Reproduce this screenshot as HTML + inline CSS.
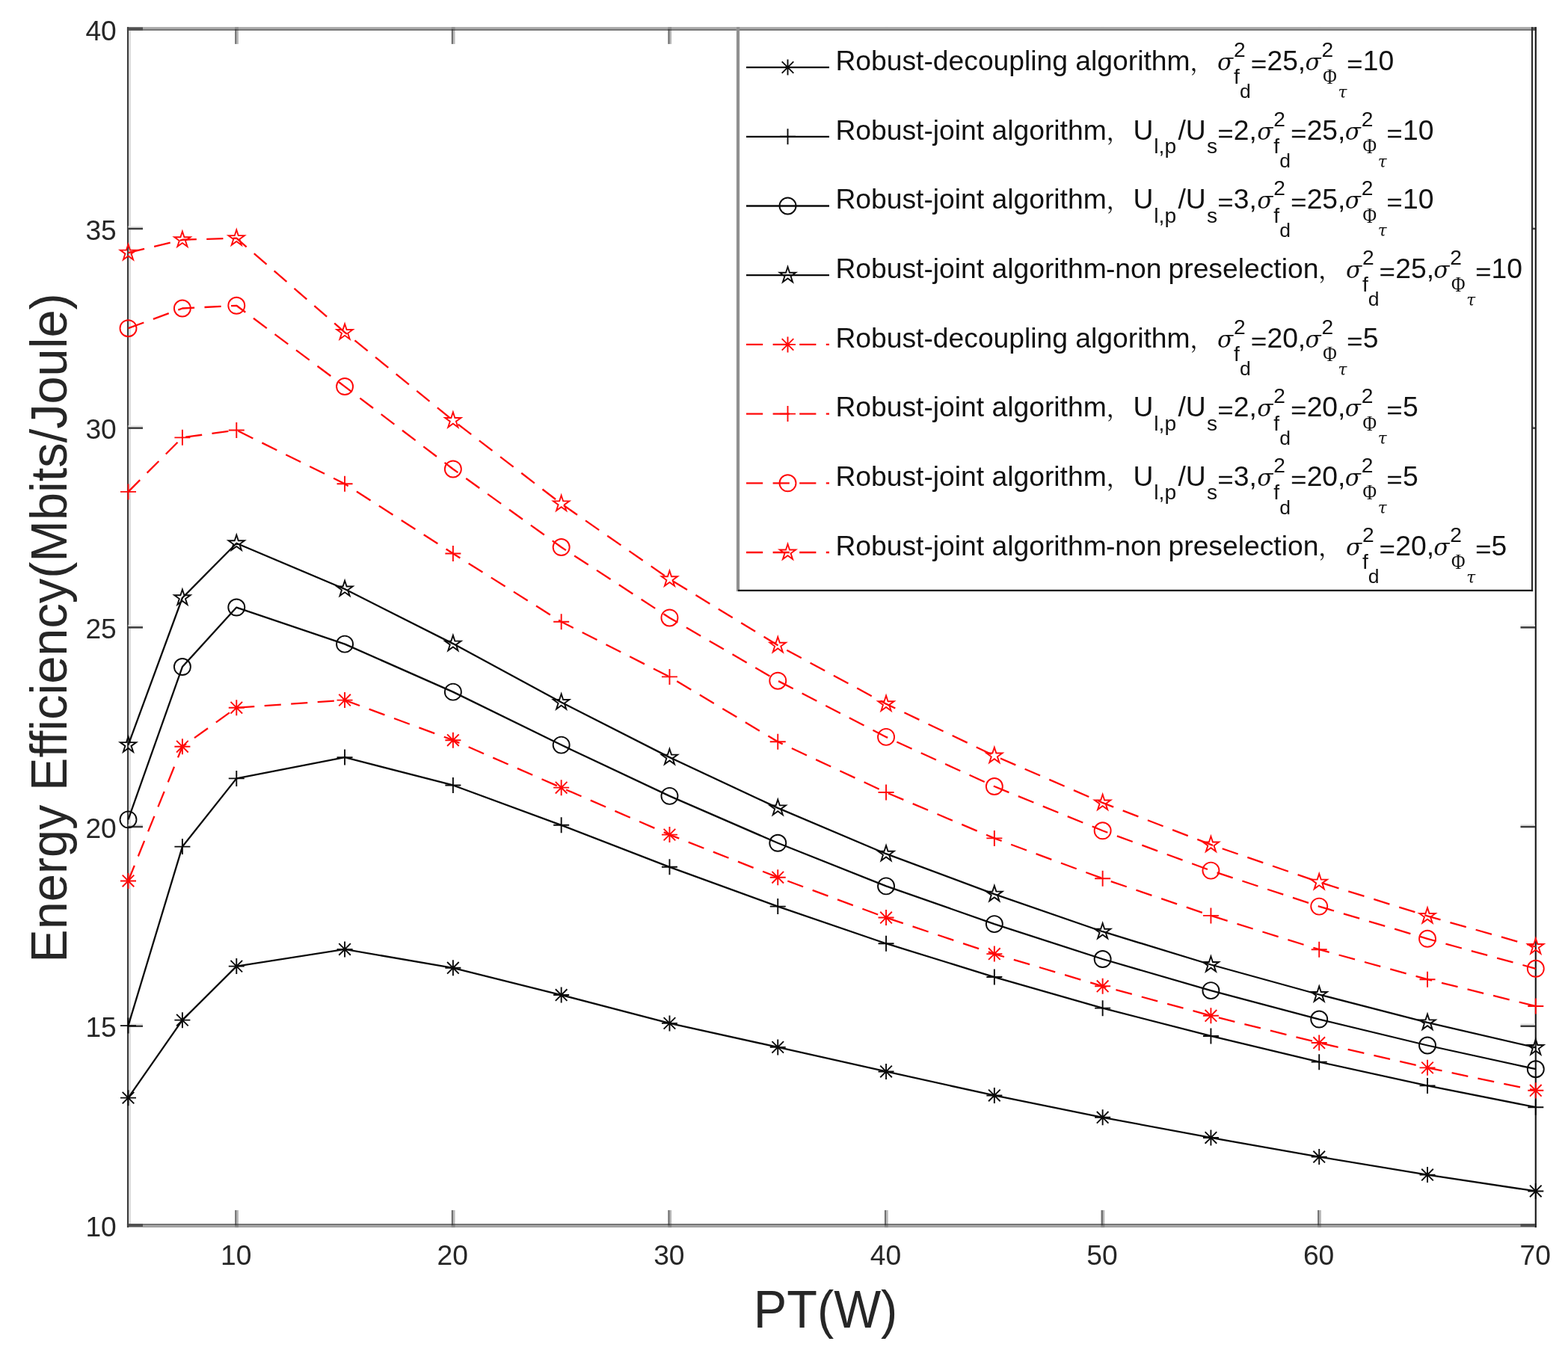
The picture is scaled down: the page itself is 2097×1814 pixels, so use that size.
<!DOCTYPE html>
<html lang="en">
<head>
<meta charset="utf-8">
<title>Energy Efficiency vs PT</title>
<style>
html,body{margin:0;padding:0;background:#fff;}
body{width:2097px;height:1814px;overflow:hidden;}
svg{display:block;}
</style>
</head>
<body>
<svg width="2097" height="1814" viewBox="0 0 2097 1814">
<rect x="0" y="0" width="2097" height="1814" fill="#fff"/>
<g id="axes">
<rect x="169.9" y="36.15" width="1885" height="2.46" fill="#a8a8a8"/>
<rect x="169.9" y="38.61" width="1885" height="2.32" fill="#757575"/>
<rect x="169.9" y="1637" width="1885" height="2.46" fill="#757575"/>
<rect x="169.9" y="1639.46" width="1885" height="2.61" fill="#a0a0a0"/>
<rect x="314.17" y="1618.9" width="2.46" height="18.1" fill="#707070"/>
<rect x="316.63" y="1618.9" width="2.32" height="18.1" fill="#b8b8b8"/>
<rect x="314.17" y="40.93" width="2.46" height="17.97" fill="#707070"/>
<rect x="316.63" y="40.93" width="2.32" height="17.97" fill="#b8b8b8"/>
<rect x="314.17" y="38.61" width="2.46" height="2.32" fill="#444"/>
<rect x="316.63" y="38.61" width="2.32" height="2.32" fill="#606060"/>
<rect x="314.17" y="36.15" width="4.78" height="2.46" fill="#909090"/>
<rect x="314.17" y="1637" width="2.46" height="2.46" fill="#444"/>
<rect x="316.63" y="1637" width="2.32" height="2.46" fill="#606060"/>
<rect x="314.17" y="1639.46" width="4.78" height="2.61" fill="#888"/>
<rect x="603.76" y="1618.9" width="2.46" height="18.1" fill="#707070"/>
<rect x="606.22" y="1618.9" width="2.32" height="18.1" fill="#b8b8b8"/>
<rect x="603.76" y="40.93" width="2.46" height="17.97" fill="#707070"/>
<rect x="606.22" y="40.93" width="2.32" height="17.97" fill="#b8b8b8"/>
<rect x="603.76" y="38.61" width="2.46" height="2.32" fill="#444"/>
<rect x="606.22" y="38.61" width="2.32" height="2.32" fill="#606060"/>
<rect x="603.76" y="36.15" width="4.78" height="2.46" fill="#909090"/>
<rect x="603.76" y="1637" width="2.46" height="2.46" fill="#444"/>
<rect x="606.22" y="1637" width="2.32" height="2.46" fill="#606060"/>
<rect x="603.76" y="1639.46" width="4.78" height="2.61" fill="#888"/>
<rect x="893.34" y="1618.9" width="2.46" height="18.1" fill="#707070"/>
<rect x="895.8" y="1618.9" width="2.32" height="18.1" fill="#b8b8b8"/>
<rect x="893.34" y="40.93" width="2.46" height="17.97" fill="#707070"/>
<rect x="895.8" y="40.93" width="2.32" height="17.97" fill="#b8b8b8"/>
<rect x="893.34" y="38.61" width="2.46" height="2.32" fill="#444"/>
<rect x="895.8" y="38.61" width="2.32" height="2.32" fill="#606060"/>
<rect x="893.34" y="36.15" width="4.78" height="2.46" fill="#909090"/>
<rect x="893.34" y="1637" width="2.46" height="2.46" fill="#444"/>
<rect x="895.8" y="1637" width="2.32" height="2.46" fill="#606060"/>
<rect x="893.34" y="1639.46" width="4.78" height="2.61" fill="#888"/>
<rect x="1182.93" y="1618.9" width="2.46" height="18.1" fill="#707070"/>
<rect x="1185.39" y="1618.9" width="2.32" height="18.1" fill="#b8b8b8"/>
<rect x="1182.93" y="40.93" width="2.46" height="17.97" fill="#707070"/>
<rect x="1185.39" y="40.93" width="2.32" height="17.97" fill="#b8b8b8"/>
<rect x="1182.93" y="38.61" width="2.46" height="2.32" fill="#444"/>
<rect x="1185.39" y="38.61" width="2.32" height="2.32" fill="#606060"/>
<rect x="1182.93" y="36.15" width="4.78" height="2.46" fill="#909090"/>
<rect x="1182.93" y="1637" width="2.46" height="2.46" fill="#444"/>
<rect x="1185.39" y="1637" width="2.32" height="2.46" fill="#606060"/>
<rect x="1182.93" y="1639.46" width="4.78" height="2.61" fill="#888"/>
<rect x="1472.51" y="1618.9" width="2.46" height="18.1" fill="#707070"/>
<rect x="1474.97" y="1618.9" width="2.32" height="18.1" fill="#b8b8b8"/>
<rect x="1472.51" y="40.93" width="2.46" height="17.97" fill="#707070"/>
<rect x="1474.97" y="40.93" width="2.32" height="17.97" fill="#b8b8b8"/>
<rect x="1472.51" y="38.61" width="2.46" height="2.32" fill="#444"/>
<rect x="1474.97" y="38.61" width="2.32" height="2.32" fill="#606060"/>
<rect x="1472.51" y="36.15" width="4.78" height="2.46" fill="#909090"/>
<rect x="1472.51" y="1637" width="2.46" height="2.46" fill="#444"/>
<rect x="1474.97" y="1637" width="2.32" height="2.46" fill="#606060"/>
<rect x="1472.51" y="1639.46" width="4.78" height="2.61" fill="#888"/>
<rect x="1762.1" y="1618.9" width="2.46" height="18.1" fill="#707070"/>
<rect x="1764.56" y="1618.9" width="2.32" height="18.1" fill="#b8b8b8"/>
<rect x="1762.1" y="40.93" width="2.46" height="17.97" fill="#707070"/>
<rect x="1764.56" y="40.93" width="2.32" height="17.97" fill="#b8b8b8"/>
<rect x="1762.1" y="38.61" width="2.46" height="2.32" fill="#444"/>
<rect x="1764.56" y="38.61" width="2.32" height="2.32" fill="#606060"/>
<rect x="1762.1" y="36.15" width="4.78" height="2.46" fill="#909090"/>
<rect x="1762.1" y="1637" width="2.46" height="2.46" fill="#444"/>
<rect x="1764.56" y="1637" width="2.32" height="2.46" fill="#606060"/>
<rect x="1762.1" y="1639.46" width="4.78" height="2.61" fill="#888"/>
<rect x="172.07" y="40.93" width="2.99" height="1596.07" fill="#dedede"/>
<rect x="169.94" y="36.15" width="2.13" height="1605.92" fill="#3c3c3c"/>
<rect x="2052.7" y="36.15" width="2.2" height="1605.92" fill="#1e1e1e"/>
<rect x="171.5" y="1637" width="19.5" height="4" fill="#505050"/>
<rect x="2033.5" y="1637" width="19.5" height="4" fill="#505050"/>
<rect x="171.5" y="1369.2" width="19.5" height="2.3" fill="#e8e8e8"/>
<rect x="171.5" y="1371.5" width="19.5" height="2.5" fill="#3c3c3c"/>
<rect x="2033.5" y="1369.2" width="19.5" height="2.3" fill="#e8e8e8"/>
<rect x="2033.5" y="1371.5" width="19.5" height="2.5" fill="#3c3c3c"/>
<rect x="171.5" y="1102.5" width="19.5" height="2.3" fill="#e8e8e8"/>
<rect x="171.5" y="1104.8" width="19.5" height="2.5" fill="#3c3c3c"/>
<rect x="2033.5" y="1102.5" width="19.5" height="2.3" fill="#e8e8e8"/>
<rect x="2033.5" y="1104.8" width="19.5" height="2.5" fill="#3c3c3c"/>
<rect x="171.5" y="835.8" width="19.5" height="2.3" fill="#e8e8e8"/>
<rect x="171.5" y="838.1" width="19.5" height="2.5" fill="#3c3c3c"/>
<rect x="2033.5" y="835.8" width="19.5" height="2.3" fill="#e8e8e8"/>
<rect x="2033.5" y="838.1" width="19.5" height="2.5" fill="#3c3c3c"/>
<rect x="171.5" y="569.1" width="19.5" height="2.3" fill="#e8e8e8"/>
<rect x="171.5" y="571.4" width="19.5" height="2.5" fill="#3c3c3c"/>
<rect x="2033.5" y="569.1" width="19.5" height="2.3" fill="#e8e8e8"/>
<rect x="2033.5" y="571.4" width="19.5" height="2.5" fill="#3c3c3c"/>
<rect x="171.5" y="302.4" width="19.5" height="2.3" fill="#e8e8e8"/>
<rect x="171.5" y="304.7" width="19.5" height="2.5" fill="#3c3c3c"/>
<rect x="2033.5" y="302.4" width="19.5" height="2.3" fill="#e8e8e8"/>
<rect x="2033.5" y="304.7" width="19.5" height="2.5" fill="#3c3c3c"/>
<rect x="171.5" y="36.5" width="19.5" height="4.2" fill="#505050"/>
<rect x="2033.5" y="36.5" width="19.5" height="4.2" fill="#505050"/>
</g>
<g id="ticklabels" font-family="'Liberation Sans', sans-serif" font-size="37.2" fill="#262626">
<text x="315.69" y="1692.3" text-anchor="middle">10</text>
<text x="605.28" y="1692.3" text-anchor="middle">20</text>
<text x="894.86" y="1692.3" text-anchor="middle">30</text>
<text x="1184.45" y="1692.3" text-anchor="middle">40</text>
<text x="1474.03" y="1692.3" text-anchor="middle">50</text>
<text x="1763.62" y="1692.3" text-anchor="middle">60</text>
<text x="2053.2" y="1692.3" text-anchor="middle">70</text>
<text x="155.8" y="1654" text-anchor="end">10</text>
<text x="155.8" y="1387.3" text-anchor="end">15</text>
<text x="155.8" y="1120.6" text-anchor="end">20</text>
<text x="155.8" y="853.9" text-anchor="end">25</text>
<text x="155.8" y="587.2" text-anchor="end">30</text>
<text x="155.8" y="320.5" text-anchor="end">35</text>
<text x="155.8" y="53.8" text-anchor="end">40</text>
</g>
<g id="axislabels" font-family="'Liberation Sans', sans-serif" font-size="66.7" fill="#262626">
<text transform="translate(1104 1776.2) scale(1 1.045)" text-anchor="middle">PT(W)</text>
<text transform="translate(88.8 840) rotate(-90) scale(1 1.04)" text-anchor="middle">Energy Efficiency(Mbits/Joule)</text>
</g>
<g id="series" fill="none">
<g id="k_ast">
<path d="M171.5 1468.65L243.9 1364.63L316.29 1292.62L461.08 1269.95L605.88 1294.76L750.67 1331.03L895.46 1368.9L1040.25 1400.9L1185.05 1433.44L1329.84 1465.44L1474.63 1494.78L1619.42 1521.99L1764.22 1547.59L1909.01 1571.59L2053.8 1593.46" stroke="#0a0a0a" stroke-width="2.3" stroke-linejoin="round"/>
<path d="M161 1468.65H182M171.5 1458.15V1479.15M163.7 1460.85L179.3 1476.45M163.7 1476.45L179.3 1460.85" stroke="#0a0a0a" stroke-width="1.9" fill="none"/>
<path d="M233.4 1364.63H254.4M243.9 1354.13V1375.13M236.1 1356.83L251.7 1372.43M236.1 1372.43L251.7 1356.83" stroke="#0a0a0a" stroke-width="1.9" fill="none"/>
<path d="M305.79 1292.62H326.79M316.29 1282.12V1303.12M308.49 1284.82L324.09 1300.42M308.49 1300.42L324.09 1284.82" stroke="#0a0a0a" stroke-width="1.9" fill="none"/>
<path d="M450.58 1269.95H471.58M461.08 1259.45V1280.45M453.28 1262.15L468.88 1277.75M453.28 1277.75L468.88 1262.15" stroke="#0a0a0a" stroke-width="1.9" fill="none"/>
<path d="M595.38 1294.76H616.38M605.88 1284.26V1305.26M598.08 1286.96L613.68 1302.56M598.08 1302.56L613.68 1286.96" stroke="#0a0a0a" stroke-width="1.9" fill="none"/>
<path d="M740.17 1331.03H761.17M750.67 1320.53V1341.53M742.87 1323.23L758.47 1338.83M742.87 1338.83L758.47 1323.23" stroke="#0a0a0a" stroke-width="1.9" fill="none"/>
<path d="M884.96 1368.9H905.96M895.46 1358.4V1379.4M887.66 1361.1L903.26 1376.7M887.66 1376.7L903.26 1361.1" stroke="#0a0a0a" stroke-width="1.9" fill="none"/>
<path d="M1029.75 1400.9H1050.75M1040.25 1390.4V1411.4M1032.45 1393.1L1048.05 1408.7M1032.45 1408.7L1048.05 1393.1" stroke="#0a0a0a" stroke-width="1.9" fill="none"/>
<path d="M1174.55 1433.44H1195.55M1185.05 1422.94V1443.94M1177.25 1425.64L1192.85 1441.24M1177.25 1441.24L1192.85 1425.64" stroke="#0a0a0a" stroke-width="1.9" fill="none"/>
<path d="M1319.34 1465.44H1340.34M1329.84 1454.94V1475.94M1322.04 1457.64L1337.64 1473.24M1322.04 1473.24L1337.64 1457.64" stroke="#0a0a0a" stroke-width="1.9" fill="none"/>
<path d="M1464.13 1494.78H1485.13M1474.63 1484.28V1505.28M1466.83 1486.98L1482.43 1502.58M1466.83 1502.58L1482.43 1486.98" stroke="#0a0a0a" stroke-width="1.9" fill="none"/>
<path d="M1608.92 1521.99H1629.92M1619.42 1511.49V1532.49M1611.62 1514.19L1627.22 1529.79M1611.62 1529.79L1627.22 1514.19" stroke="#0a0a0a" stroke-width="1.9" fill="none"/>
<path d="M1753.72 1547.59H1774.72M1764.22 1537.09V1558.09M1756.42 1539.79L1772.02 1555.39M1756.42 1555.39L1772.02 1539.79" stroke="#0a0a0a" stroke-width="1.9" fill="none"/>
<path d="M1898.51 1571.59H1919.51M1909.01 1561.09V1582.09M1901.21 1563.79L1916.81 1579.39M1901.21 1579.39L1916.81 1563.79" stroke="#0a0a0a" stroke-width="1.9" fill="none"/>
<path d="M2043.3 1593.46H2064.3M2053.8 1582.96V1603.96M2046 1585.66L2061.6 1601.26M2046 1601.26L2061.6 1585.66" stroke="#0a0a0a" stroke-width="1.9" fill="none"/>
</g>
<g id="k_plus">
<path d="M171.5 1372.1L243.9 1132.6L316.29 1041.39L461.08 1013.12L605.88 1050.46L750.67 1103.8L895.46 1159.81L1040.25 1212.61L1185.05 1262.22L1329.84 1307.03L1474.63 1348.63L1619.42 1385.97L1764.22 1420.64L1909.01 1452.38L2053.8 1481.18" stroke="#0a0a0a" stroke-width="2.3" stroke-linejoin="round"/>
<path d="M161 1372.1H182M171.5 1361.6V1382.6" stroke="#0a0a0a" stroke-width="1.9" fill="none"/>
<path d="M233.4 1132.6H254.4M243.9 1122.1V1143.1" stroke="#0a0a0a" stroke-width="1.9" fill="none"/>
<path d="M305.79 1041.39H326.79M316.29 1030.89V1051.89" stroke="#0a0a0a" stroke-width="1.9" fill="none"/>
<path d="M450.58 1013.12H471.58M461.08 1002.62V1023.62" stroke="#0a0a0a" stroke-width="1.9" fill="none"/>
<path d="M595.38 1050.46H616.38M605.88 1039.96V1060.96" stroke="#0a0a0a" stroke-width="1.9" fill="none"/>
<path d="M740.17 1103.8H761.17M750.67 1093.3V1114.3" stroke="#0a0a0a" stroke-width="1.9" fill="none"/>
<path d="M884.96 1159.81H905.96M895.46 1149.31V1170.31" stroke="#0a0a0a" stroke-width="1.9" fill="none"/>
<path d="M1029.75 1212.61H1050.75M1040.25 1202.11V1223.11" stroke="#0a0a0a" stroke-width="1.9" fill="none"/>
<path d="M1174.55 1262.22H1195.55M1185.05 1251.72V1272.72" stroke="#0a0a0a" stroke-width="1.9" fill="none"/>
<path d="M1319.34 1307.03H1340.34M1329.84 1296.53V1317.53" stroke="#0a0a0a" stroke-width="1.9" fill="none"/>
<path d="M1464.13 1348.63H1485.13M1474.63 1338.13V1359.13" stroke="#0a0a0a" stroke-width="1.9" fill="none"/>
<path d="M1608.92 1385.97H1629.92M1619.42 1375.47V1396.47" stroke="#0a0a0a" stroke-width="1.9" fill="none"/>
<path d="M1753.72 1420.64H1774.72M1764.22 1410.14V1431.14" stroke="#0a0a0a" stroke-width="1.9" fill="none"/>
<path d="M1898.51 1452.38H1919.51M1909.01 1441.88V1462.88" stroke="#0a0a0a" stroke-width="1.9" fill="none"/>
<path d="M2043.3 1481.18H2064.3M2053.8 1470.68V1491.68" stroke="#0a0a0a" stroke-width="1.9" fill="none"/>
</g>
<g id="k_circ">
<path d="M171.5 1096.33L243.9 892.04L316.29 812.56L461.08 861.64L605.88 925.64L750.67 996.59L895.46 1064.86L1040.25 1127.8L1185.05 1185.41L1329.84 1236.08L1474.63 1283.02L1619.42 1325.16L1764.22 1363.57L1909.01 1398.5L2053.8 1430.24" stroke="#0a0a0a" stroke-width="2.3" stroke-linejoin="round"/>
<circle cx="171.5" cy="1096.33" r="11.0" stroke="#0a0a0a" stroke-width="1.9" fill="none"/>
<circle cx="243.9" cy="892.04" r="11.0" stroke="#0a0a0a" stroke-width="1.9" fill="none"/>
<circle cx="316.29" cy="812.56" r="11.0" stroke="#0a0a0a" stroke-width="1.9" fill="none"/>
<circle cx="461.08" cy="861.64" r="11.0" stroke="#0a0a0a" stroke-width="1.9" fill="none"/>
<circle cx="605.88" cy="925.64" r="11.0" stroke="#0a0a0a" stroke-width="1.9" fill="none"/>
<circle cx="750.67" cy="996.59" r="11.0" stroke="#0a0a0a" stroke-width="1.9" fill="none"/>
<circle cx="895.46" cy="1064.86" r="11.0" stroke="#0a0a0a" stroke-width="1.9" fill="none"/>
<circle cx="1040.25" cy="1127.8" r="11.0" stroke="#0a0a0a" stroke-width="1.9" fill="none"/>
<circle cx="1185.05" cy="1185.41" r="11.0" stroke="#0a0a0a" stroke-width="1.9" fill="none"/>
<circle cx="1329.84" cy="1236.08" r="11.0" stroke="#0a0a0a" stroke-width="1.9" fill="none"/>
<circle cx="1474.63" cy="1283.02" r="11.0" stroke="#0a0a0a" stroke-width="1.9" fill="none"/>
<circle cx="1619.42" cy="1325.16" r="11.0" stroke="#0a0a0a" stroke-width="1.9" fill="none"/>
<circle cx="1764.22" cy="1363.57" r="11.0" stroke="#0a0a0a" stroke-width="1.9" fill="none"/>
<circle cx="1909.01" cy="1398.5" r="11.0" stroke="#0a0a0a" stroke-width="1.9" fill="none"/>
<circle cx="2053.8" cy="1430.24" r="11.0" stroke="#0a0a0a" stroke-width="1.9" fill="none"/>
</g>
<g id="k_star">
<path d="M171.5 996.59L243.9 799.76L316.29 726.69L461.08 788.03L605.88 861.1L750.67 939.51L895.46 1013.12L1040.25 1080.86L1185.05 1142.2L1329.84 1196.08L1474.63 1246.22L1619.42 1290.49L1764.22 1330.49L1909.01 1367.83L2053.8 1401.44" stroke="#0a0a0a" stroke-width="2.3" stroke-linejoin="round"/>
<polygon points="171.5,985.39 174.01,993.13 182.15,993.13 175.57,997.91 178.08,1005.65 171.5,1000.86 164.92,1005.65 167.43,997.91 160.85,993.13 168.99,993.13" stroke="#0a0a0a" stroke-width="1.9" fill="none" stroke-linejoin="miter"/>
<polygon points="243.9,788.56 246.41,796.3 254.55,796.3 247.97,801.08 250.48,808.82 243.9,804.04 237.31,808.82 239.83,801.08 233.24,796.3 241.38,796.3" stroke="#0a0a0a" stroke-width="1.9" fill="none" stroke-linejoin="miter"/>
<polygon points="316.29,715.49 318.81,723.22 326.94,723.23 320.36,728.01 322.88,735.75 316.29,730.96 309.71,735.75 312.22,728.01 305.64,723.23 313.78,723.22" stroke="#0a0a0a" stroke-width="1.9" fill="none" stroke-linejoin="miter"/>
<polygon points="461.08,776.83 463.6,784.57 471.74,784.57 465.15,789.35 467.67,797.09 461.08,792.31 454.5,797.09 457.02,789.35 450.43,784.57 458.57,784.57" stroke="#0a0a0a" stroke-width="1.9" fill="none" stroke-linejoin="miter"/>
<polygon points="605.88,849.9 608.39,857.64 616.53,857.64 609.95,862.42 612.46,870.16 605.88,865.38 599.29,870.16 601.81,862.42 595.23,857.64 603.36,857.64" stroke="#0a0a0a" stroke-width="1.9" fill="none" stroke-linejoin="miter"/>
<polygon points="750.67,928.31 753.18,936.05 761.32,936.05 754.74,940.83 757.25,948.57 750.67,943.79 744.09,948.57 746.6,940.83 740.02,936.05 748.15,936.05" stroke="#0a0a0a" stroke-width="1.9" fill="none" stroke-linejoin="miter"/>
<polygon points="895.46,1001.92 897.98,1009.66 906.11,1009.66 899.53,1014.44 902.04,1022.18 895.46,1017.4 888.88,1022.18 891.39,1014.44 884.81,1009.66 892.95,1009.66" stroke="#0a0a0a" stroke-width="1.9" fill="none" stroke-linejoin="miter"/>
<polygon points="1040.25,1069.66 1042.77,1077.4 1050.91,1077.4 1044.32,1082.19 1046.84,1089.92 1040.25,1085.14 1033.67,1089.92 1036.18,1082.19 1029.6,1077.4 1037.74,1077.4" stroke="#0a0a0a" stroke-width="1.9" fill="none" stroke-linejoin="miter"/>
<polygon points="1185.05,1131 1187.56,1138.74 1195.7,1138.74 1189.12,1143.53 1191.63,1151.27 1185.05,1146.48 1178.46,1151.27 1180.98,1143.53 1174.39,1138.74 1182.53,1138.74" stroke="#0a0a0a" stroke-width="1.9" fill="none" stroke-linejoin="miter"/>
<polygon points="1329.84,1184.88 1332.35,1192.62 1340.49,1192.62 1333.91,1197.4 1336.42,1205.14 1329.84,1200.36 1323.26,1205.14 1325.77,1197.4 1319.19,1192.62 1327.32,1192.62" stroke="#0a0a0a" stroke-width="1.9" fill="none" stroke-linejoin="miter"/>
<polygon points="1474.63,1235.02 1477.15,1242.76 1485.28,1242.76 1478.7,1247.54 1481.21,1255.28 1474.63,1250.5 1468.05,1255.28 1470.56,1247.54 1463.98,1242.76 1472.12,1242.76" stroke="#0a0a0a" stroke-width="1.9" fill="none" stroke-linejoin="miter"/>
<polygon points="1619.42,1279.29 1621.94,1287.03 1630.07,1287.03 1623.49,1291.81 1626.01,1299.55 1619.42,1294.77 1612.84,1299.55 1615.35,1291.81 1608.77,1287.03 1616.91,1287.03" stroke="#0a0a0a" stroke-width="1.9" fill="none" stroke-linejoin="miter"/>
<polygon points="1764.22,1319.29 1766.73,1327.03 1774.87,1327.03 1768.28,1331.82 1770.8,1339.56 1764.22,1334.77 1757.63,1339.56 1760.15,1331.82 1753.56,1327.03 1761.7,1327.03" stroke="#0a0a0a" stroke-width="1.9" fill="none" stroke-linejoin="miter"/>
<polygon points="1909.01,1356.63 1911.52,1364.37 1919.66,1364.37 1913.08,1369.15 1915.59,1376.89 1909.01,1372.11 1902.42,1376.89 1904.94,1369.15 1898.36,1364.37 1906.49,1364.37" stroke="#0a0a0a" stroke-width="1.9" fill="none" stroke-linejoin="miter"/>
<polygon points="2053.8,1390.24 2056.31,1397.98 2064.45,1397.98 2057.87,1402.76 2060.38,1410.5 2053.8,1405.72 2047.22,1410.5 2049.73,1402.76 2043.15,1397.98 2051.29,1397.98" stroke="#0a0a0a" stroke-width="1.9" fill="none" stroke-linejoin="miter"/>
</g>
<g id="r_ast">
<path d="M171.5 1178.48L243.9 998.72L316.29 946.71L461.08 936.58L605.88 990.19L750.67 1053.66L895.46 1116.6L1040.25 1173.68L1185.05 1227.55L1329.84 1276.09L1474.63 1319.29L1619.42 1358.76L1764.22 1395.04L1909.01 1428.37L2053.8 1458.78" stroke="#ff0808" stroke-width="2.3" stroke-dasharray="22.2 13.4" stroke-linejoin="round"/>
<path d="M161 1178.48H182M171.5 1167.98V1188.98M163.7 1170.68L179.3 1186.28M163.7 1186.28L179.3 1170.68" stroke="#ff0808" stroke-width="1.9" fill="none"/>
<path d="M233.4 998.72H254.4M243.9 988.22V1009.22M236.1 990.92L251.7 1006.52M236.1 1006.52L251.7 990.92" stroke="#ff0808" stroke-width="1.9" fill="none"/>
<path d="M305.79 946.71H326.79M316.29 936.21V957.21M308.49 938.91L324.09 954.51M308.49 954.51L324.09 938.91" stroke="#ff0808" stroke-width="1.9" fill="none"/>
<path d="M450.58 936.58H471.58M461.08 926.08V947.08M453.28 928.78L468.88 944.38M453.28 944.38L468.88 928.78" stroke="#ff0808" stroke-width="1.9" fill="none"/>
<path d="M595.38 990.19H616.38M605.88 979.69V1000.69M598.08 982.39L613.68 997.99M598.08 997.99L613.68 982.39" stroke="#ff0808" stroke-width="1.9" fill="none"/>
<path d="M740.17 1053.66H761.17M750.67 1043.16V1064.16M742.87 1045.86L758.47 1061.46M742.87 1061.46L758.47 1045.86" stroke="#ff0808" stroke-width="1.9" fill="none"/>
<path d="M884.96 1116.6H905.96M895.46 1106.1V1127.1M887.66 1108.8L903.26 1124.4M887.66 1124.4L903.26 1108.8" stroke="#ff0808" stroke-width="1.9" fill="none"/>
<path d="M1029.75 1173.68H1050.75M1040.25 1163.18V1184.18M1032.45 1165.88L1048.05 1181.48M1032.45 1181.48L1048.05 1165.88" stroke="#ff0808" stroke-width="1.9" fill="none"/>
<path d="M1174.55 1227.55H1195.55M1185.05 1217.05V1238.05M1177.25 1219.75L1192.85 1235.35M1177.25 1235.35L1192.85 1219.75" stroke="#ff0808" stroke-width="1.9" fill="none"/>
<path d="M1319.34 1276.09H1340.34M1329.84 1265.59V1286.59M1322.04 1268.29L1337.64 1283.89M1322.04 1283.89L1337.64 1268.29" stroke="#ff0808" stroke-width="1.9" fill="none"/>
<path d="M1464.13 1319.29H1485.13M1474.63 1308.79V1329.79M1466.83 1311.49L1482.43 1327.09M1466.83 1327.09L1482.43 1311.49" stroke="#ff0808" stroke-width="1.9" fill="none"/>
<path d="M1608.92 1358.76H1629.92M1619.42 1348.26V1369.26M1611.62 1350.96L1627.22 1366.56M1611.62 1366.56L1627.22 1350.96" stroke="#ff0808" stroke-width="1.9" fill="none"/>
<path d="M1753.72 1395.04H1774.72M1764.22 1384.54V1405.54M1756.42 1387.24L1772.02 1402.84M1756.42 1402.84L1772.02 1387.24" stroke="#ff0808" stroke-width="1.9" fill="none"/>
<path d="M1898.51 1428.37H1919.51M1909.01 1417.87V1438.87M1901.21 1420.57L1916.81 1436.17M1901.21 1436.17L1916.81 1420.57" stroke="#ff0808" stroke-width="1.9" fill="none"/>
<path d="M2043.3 1458.78H2064.3M2053.8 1448.28V1469.28M2046 1450.98L2061.6 1466.58M2046 1466.58L2061.6 1450.98" stroke="#ff0808" stroke-width="1.9" fill="none"/>
</g>
<g id="r_plus">
<path d="M171.5 657.88L243.9 585.34L316.29 575.47L461.08 647.21L605.88 740.55L750.67 831.77L895.46 905.38L1040.25 992.32L1185.05 1060.06L1329.84 1121.4L1474.63 1175.28L1619.42 1224.88L1764.22 1270.22L1909.01 1310.23L2053.8 1345.96" stroke="#ff0808" stroke-width="2.3" stroke-dasharray="22.2 13.4" stroke-linejoin="round"/>
<path d="M161 657.88H182M171.5 647.38V668.38" stroke="#ff0808" stroke-width="1.9" fill="none"/>
<path d="M233.4 585.34H254.4M243.9 574.84V595.84" stroke="#ff0808" stroke-width="1.9" fill="none"/>
<path d="M305.79 575.47H326.79M316.29 564.97V585.97" stroke="#ff0808" stroke-width="1.9" fill="none"/>
<path d="M450.58 647.21H471.58M461.08 636.71V657.71" stroke="#ff0808" stroke-width="1.9" fill="none"/>
<path d="M595.38 740.55H616.38M605.88 730.05V751.05" stroke="#ff0808" stroke-width="1.9" fill="none"/>
<path d="M740.17 831.77H761.17M750.67 821.27V842.27" stroke="#ff0808" stroke-width="1.9" fill="none"/>
<path d="M884.96 905.38H905.96M895.46 894.88V915.88" stroke="#ff0808" stroke-width="1.9" fill="none"/>
<path d="M1029.75 992.32H1050.75M1040.25 981.82V1002.82" stroke="#ff0808" stroke-width="1.9" fill="none"/>
<path d="M1174.55 1060.06H1195.55M1185.05 1049.56V1070.56" stroke="#ff0808" stroke-width="1.9" fill="none"/>
<path d="M1319.34 1121.4H1340.34M1329.84 1110.9V1131.9" stroke="#ff0808" stroke-width="1.9" fill="none"/>
<path d="M1464.13 1175.28H1485.13M1474.63 1164.78V1185.78" stroke="#ff0808" stroke-width="1.9" fill="none"/>
<path d="M1608.92 1224.88H1629.92M1619.42 1214.38V1235.38" stroke="#ff0808" stroke-width="1.9" fill="none"/>
<path d="M1753.72 1270.22H1774.72M1764.22 1259.72V1280.72" stroke="#ff0808" stroke-width="1.9" fill="none"/>
<path d="M1898.51 1310.23H1919.51M1909.01 1299.73V1320.73" stroke="#ff0808" stroke-width="1.9" fill="none"/>
<path d="M2043.3 1345.96H2064.3M2053.8 1335.46V1356.46" stroke="#ff0808" stroke-width="1.9" fill="none"/>
</g>
<g id="r_circ">
<path d="M171.5 439.18L243.9 412.51L316.29 408.78L461.08 517.06L605.88 627.47L750.67 732.02L895.46 826.43L1040.25 910.71L1185.05 985.92L1329.84 1052.06L1474.63 1111.27L1619.42 1164.61L1764.22 1212.61L1909.01 1255.82L2053.8 1295.82" stroke="#ff0808" stroke-width="2.3" stroke-dasharray="22.2 13.4" stroke-linejoin="round"/>
<circle cx="171.5" cy="439.18" r="11.0" stroke="#ff0808" stroke-width="1.9" fill="none"/>
<circle cx="243.9" cy="412.51" r="11.0" stroke="#ff0808" stroke-width="1.9" fill="none"/>
<circle cx="316.29" cy="408.78" r="11.0" stroke="#ff0808" stroke-width="1.9" fill="none"/>
<circle cx="461.08" cy="517.06" r="11.0" stroke="#ff0808" stroke-width="1.9" fill="none"/>
<circle cx="605.88" cy="627.47" r="11.0" stroke="#ff0808" stroke-width="1.9" fill="none"/>
<circle cx="750.67" cy="732.02" r="11.0" stroke="#ff0808" stroke-width="1.9" fill="none"/>
<circle cx="895.46" cy="826.43" r="11.0" stroke="#ff0808" stroke-width="1.9" fill="none"/>
<circle cx="1040.25" cy="910.71" r="11.0" stroke="#ff0808" stroke-width="1.9" fill="none"/>
<circle cx="1185.05" cy="985.92" r="11.0" stroke="#ff0808" stroke-width="1.9" fill="none"/>
<circle cx="1329.84" cy="1052.06" r="11.0" stroke="#ff0808" stroke-width="1.9" fill="none"/>
<circle cx="1474.63" cy="1111.27" r="11.0" stroke="#ff0808" stroke-width="1.9" fill="none"/>
<circle cx="1619.42" cy="1164.61" r="11.0" stroke="#ff0808" stroke-width="1.9" fill="none"/>
<circle cx="1764.22" cy="1212.61" r="11.0" stroke="#ff0808" stroke-width="1.9" fill="none"/>
<circle cx="1909.01" cy="1255.82" r="11.0" stroke="#ff0808" stroke-width="1.9" fill="none"/>
<circle cx="2053.8" cy="1295.82" r="11.0" stroke="#ff0808" stroke-width="1.9" fill="none"/>
</g>
<g id="r_star">
<path d="M171.5 338.1L243.9 320.77L316.29 318.63L461.08 444.52L605.88 562.4L750.67 673.88L895.46 774.69L1040.25 863.24L1185.05 941.65L1329.84 1010.99L1474.63 1073.93L1619.42 1129.94L1764.22 1180.08L1909.01 1225.41L2053.8 1266.49" stroke="#ff0808" stroke-width="2.3" stroke-dasharray="22.2 13.4" stroke-linejoin="round"/>
<polygon points="171.5,326.9 174.01,334.64 182.15,334.64 175.57,339.43 178.08,347.17 171.5,342.38 164.92,347.17 167.43,339.43 160.85,334.64 168.99,334.64" stroke="#ff0808" stroke-width="1.9" fill="none" stroke-linejoin="miter"/>
<polygon points="243.9,309.57 246.41,317.31 254.55,317.31 247.97,322.09 250.48,329.83 243.9,325.05 237.31,329.83 239.83,322.09 233.24,317.31 241.38,317.31" stroke="#ff0808" stroke-width="1.9" fill="none" stroke-linejoin="miter"/>
<polygon points="316.29,307.44 318.81,315.17 326.94,315.17 320.36,319.96 322.88,327.7 316.29,322.91 309.71,327.7 312.22,319.96 305.64,315.17 313.78,315.17" stroke="#ff0808" stroke-width="1.9" fill="none" stroke-linejoin="miter"/>
<polygon points="461.08,433.32 463.6,441.06 471.74,441.06 465.15,445.84 467.67,453.58 461.08,448.8 454.5,453.58 457.02,445.84 450.43,441.06 458.57,441.06" stroke="#ff0808" stroke-width="1.9" fill="none" stroke-linejoin="miter"/>
<polygon points="605.88,551.2 608.39,558.94 616.53,558.94 609.95,563.72 612.46,571.46 605.88,566.68 599.29,571.46 601.81,563.72 595.23,558.94 603.36,558.94" stroke="#ff0808" stroke-width="1.9" fill="none" stroke-linejoin="miter"/>
<polygon points="750.67,662.68 753.18,670.42 761.32,670.42 754.74,675.2 757.25,682.94 750.67,678.16 744.09,682.94 746.6,675.2 740.02,670.42 748.15,670.42" stroke="#ff0808" stroke-width="1.9" fill="none" stroke-linejoin="miter"/>
<polygon points="895.46,763.49 897.98,771.23 906.11,771.23 899.53,776.01 902.04,783.75 895.46,778.97 888.88,783.75 891.39,776.01 884.81,771.23 892.95,771.23" stroke="#ff0808" stroke-width="1.9" fill="none" stroke-linejoin="miter"/>
<polygon points="1040.25,852.04 1042.77,859.78 1050.91,859.78 1044.32,864.56 1046.84,872.3 1040.25,867.51 1033.67,872.3 1036.18,864.56 1029.6,859.78 1037.74,859.78" stroke="#ff0808" stroke-width="1.9" fill="none" stroke-linejoin="miter"/>
<polygon points="1185.05,930.45 1187.56,938.18 1195.7,938.19 1189.12,942.97 1191.63,950.71 1185.05,945.92 1178.46,950.71 1180.98,942.97 1174.39,938.19 1182.53,938.18" stroke="#ff0808" stroke-width="1.9" fill="none" stroke-linejoin="miter"/>
<polygon points="1329.84,999.79 1332.35,1007.53 1340.49,1007.53 1333.91,1012.31 1336.42,1020.05 1329.84,1015.27 1323.26,1020.05 1325.77,1012.31 1319.19,1007.53 1327.32,1007.53" stroke="#ff0808" stroke-width="1.9" fill="none" stroke-linejoin="miter"/>
<polygon points="1474.63,1062.73 1477.15,1070.47 1485.28,1070.47 1478.7,1075.25 1481.21,1082.99 1474.63,1078.21 1468.05,1082.99 1470.56,1075.25 1463.98,1070.47 1472.12,1070.47" stroke="#ff0808" stroke-width="1.9" fill="none" stroke-linejoin="miter"/>
<polygon points="1619.42,1118.74 1621.94,1126.48 1630.07,1126.48 1623.49,1131.26 1626.01,1139 1619.42,1134.21 1612.84,1139 1615.35,1131.26 1608.77,1126.48 1616.91,1126.48" stroke="#ff0808" stroke-width="1.9" fill="none" stroke-linejoin="miter"/>
<polygon points="1764.22,1168.88 1766.73,1176.61 1774.87,1176.62 1768.28,1181.4 1770.8,1189.14 1764.22,1184.35 1757.63,1189.14 1760.15,1181.4 1753.56,1176.62 1761.7,1176.61" stroke="#ff0808" stroke-width="1.9" fill="none" stroke-linejoin="miter"/>
<polygon points="1909.01,1214.21 1911.52,1221.95 1919.66,1221.95 1913.08,1226.74 1915.59,1234.48 1909.01,1229.69 1902.42,1234.48 1904.94,1226.74 1898.36,1221.95 1906.49,1221.95" stroke="#ff0808" stroke-width="1.9" fill="none" stroke-linejoin="miter"/>
<polygon points="2053.8,1255.29 2056.31,1263.03 2064.45,1263.03 2057.87,1267.81 2060.38,1275.55 2053.8,1270.77 2047.22,1275.55 2049.73,1267.81 2043.15,1263.03 2051.29,1263.03" stroke="#ff0808" stroke-width="1.9" fill="none" stroke-linejoin="miter"/>
</g>
</g>
<g id="legend">
<rect x="984.9" y="36.15" width="1065.2" height="754.95" fill="#fff"/>
<rect x="984.9" y="36.15" width="1065.2" height="2.46" fill="#a8a8a8"/>
<rect x="984.9" y="38.61" width="1065.2" height="2.32" fill="#757575"/>
<rect x="984.9" y="36.15" width="4.2" height="754.95" fill="#909090"/>
<rect x="2047.95" y="36.15" width="2.15" height="754.95" fill="#2a2a2a"/>
<rect x="987" y="788.8" width="1063.1" height="2.3" fill="#151515"/>
<path d="M998.0 90.1H1109.0" stroke="#0a0a0a" stroke-width="2.3" fill="none"/>
<path d="M1043 90.1H1064M1053.5 79.6V100.6M1045.7 82.3L1061.3 97.9M1045.7 97.9L1061.3 82.3" stroke="#0a0a0a" stroke-width="1.9" fill="none"/>
<text fill="#111" font-family="'Liberation Sans', sans-serif" font-size="37.25"><tspan x="1117.4" y="93.9">Robust-decoupling algorithm</tspan><tspan x="1591.57" y="93.9" font-size="31" font-family="'Liberation Sans', 'Noto Serif CJK SC', 'Noto Sans CJK SC', sans-serif">，</tspan><tspan x="1628.12" y="93.9" font-size="31" font-family="'DejaVu Serif', 'Liberation Serif', serif" font-style="italic">σ</tspan><tspan x="1650.12" y="75.9" font-size="28.2">2</tspan><tspan x="1650.12" y="112.1" font-size="28.2">f</tspan><tspan x="1657.96" y="131.3" font-size="26.5">d</tspan><tspan x="1673" y="98.8" font-size="37.25" font-family="'Liberation Serif', 'DejaVu Serif', serif" stroke="#111" stroke-width="0.5">=</tspan><tspan x="1694.45" y="93.9">25,</tspan><tspan x="1745.53" y="93.9" font-size="31" font-family="'DejaVu Serif', 'Liberation Serif', serif" font-style="italic">σ</tspan><tspan x="1767.53" y="75.9" font-size="28.2">2</tspan><tspan x="1769.23" y="112.1" font-size="28.5" font-family="'Liberation Serif', 'DejaVu Serif', serif" textLength="18.5" lengthAdjust="spacingAndGlyphs">Φ</tspan><tspan x="1789.43" y="130.9" font-size="21.5" font-family="'DejaVu Serif', 'Liberation Serif', serif" font-style="italic">τ</tspan><tspan x="1801.33" y="98.8" font-size="37.25" font-family="'Liberation Serif', 'DejaVu Serif', serif" stroke="#111" stroke-width="0.5">=</tspan><tspan x="1822.79" y="93.9">10</tspan></text>
<path d="M998.0 182.8H1109.0" stroke="#0a0a0a" stroke-width="2.3" fill="none"/>
<path d="M1043 182.8H1064M1053.5 172.3V193.3" stroke="#0a0a0a" stroke-width="1.9" fill="none"/>
<text fill="#111" font-family="'Liberation Sans', sans-serif" font-size="37.25"><tspan x="1117.4" y="186.6">Robust-joint algorithm</tspan><tspan x="1479.71" y="186.6" font-size="31" font-family="'Liberation Sans', 'Noto Serif CJK SC', 'Noto Sans CJK SC', sans-serif">，</tspan><tspan x="1515.46" y="186.6">U</tspan><tspan x="1543.37" y="204.8" font-size="28.2">l,p</tspan><tspan x="1575.45" y="186.6">/U</tspan><tspan x="1613.9" y="204.8" font-size="28.2">s</tspan><tspan x="1628.4" y="191.5" font-size="37.25" font-family="'Liberation Serif', 'DejaVu Serif', serif" stroke="#111" stroke-width="0.5">=</tspan><tspan x="1649.85" y="186.6">2,</tspan><tspan x="1681.32" y="186.6" font-size="31" font-family="'DejaVu Serif', 'Liberation Serif', serif" font-style="italic">σ</tspan><tspan x="1703.32" y="168.6" font-size="28.2">2</tspan><tspan x="1703.32" y="204.8" font-size="28.2">f</tspan><tspan x="1711.15" y="224" font-size="26.5">d</tspan><tspan x="1726.19" y="191.5" font-size="37.25" font-family="'Liberation Serif', 'DejaVu Serif', serif" stroke="#111" stroke-width="0.5">=</tspan><tspan x="1747.64" y="186.6">25,</tspan><tspan x="1798.73" y="186.6" font-size="31" font-family="'DejaVu Serif', 'Liberation Serif', serif" font-style="italic">σ</tspan><tspan x="1820.73" y="168.6" font-size="28.2">2</tspan><tspan x="1822.43" y="204.8" font-size="28.5" font-family="'Liberation Serif', 'DejaVu Serif', serif" textLength="18.5" lengthAdjust="spacingAndGlyphs">Φ</tspan><tspan x="1842.63" y="223.6" font-size="21.5" font-family="'DejaVu Serif', 'Liberation Serif', serif" font-style="italic">τ</tspan><tspan x="1854.53" y="191.5" font-size="37.25" font-family="'Liberation Serif', 'DejaVu Serif', serif" stroke="#111" stroke-width="0.5">=</tspan><tspan x="1875.98" y="186.6">10</tspan></text>
<path d="M998.0 275.5H1109.0" stroke="#0a0a0a" stroke-width="2.3" fill="none"/>
<circle cx="1053.5" cy="275.5" r="11.0" stroke="#0a0a0a" stroke-width="1.9" fill="none"/>
<text fill="#111" font-family="'Liberation Sans', sans-serif" font-size="37.25"><tspan x="1117.4" y="279.3">Robust-joint algorithm</tspan><tspan x="1479.71" y="279.3" font-size="31" font-family="'Liberation Sans', 'Noto Serif CJK SC', 'Noto Sans CJK SC', sans-serif">，</tspan><tspan x="1515.46" y="279.3">U</tspan><tspan x="1543.37" y="297.5" font-size="28.2">l,p</tspan><tspan x="1575.45" y="279.3">/U</tspan><tspan x="1613.9" y="297.5" font-size="28.2">s</tspan><tspan x="1628.4" y="284.2" font-size="37.25" font-family="'Liberation Serif', 'DejaVu Serif', serif" stroke="#111" stroke-width="0.5">=</tspan><tspan x="1649.85" y="279.3">3,</tspan><tspan x="1681.32" y="279.3" font-size="31" font-family="'DejaVu Serif', 'Liberation Serif', serif" font-style="italic">σ</tspan><tspan x="1703.32" y="261.3" font-size="28.2">2</tspan><tspan x="1703.32" y="297.5" font-size="28.2">f</tspan><tspan x="1711.15" y="316.7" font-size="26.5">d</tspan><tspan x="1726.19" y="284.2" font-size="37.25" font-family="'Liberation Serif', 'DejaVu Serif', serif" stroke="#111" stroke-width="0.5">=</tspan><tspan x="1747.64" y="279.3">25,</tspan><tspan x="1798.73" y="279.3" font-size="31" font-family="'DejaVu Serif', 'Liberation Serif', serif" font-style="italic">σ</tspan><tspan x="1820.73" y="261.3" font-size="28.2">2</tspan><tspan x="1822.43" y="297.5" font-size="28.5" font-family="'Liberation Serif', 'DejaVu Serif', serif" textLength="18.5" lengthAdjust="spacingAndGlyphs">Φ</tspan><tspan x="1842.63" y="316.3" font-size="21.5" font-family="'DejaVu Serif', 'Liberation Serif', serif" font-style="italic">τ</tspan><tspan x="1854.53" y="284.2" font-size="37.25" font-family="'Liberation Serif', 'DejaVu Serif', serif" stroke="#111" stroke-width="0.5">=</tspan><tspan x="1875.98" y="279.3">10</tspan></text>
<path d="M998.0 368.2H1109.0" stroke="#0a0a0a" stroke-width="2.3" fill="none"/>
<polygon points="1053.5,357 1056.01,364.74 1064.15,364.74 1057.57,369.52 1060.08,377.26 1053.5,372.48 1046.92,377.26 1049.43,369.52 1042.85,364.74 1050.99,364.74" stroke="#0a0a0a" stroke-width="1.9" fill="none" stroke-linejoin="miter"/>
<text fill="#111" font-family="'Liberation Sans', sans-serif" font-size="37.25"><tspan x="1117.4" y="372">Robust-joint algorithm</tspan><tspan x="1478.91" y="372">-non</tspan><tspan x="1552.17" y="372"> preselection</tspan><tspan x="1763.37" y="372" font-size="31" font-family="'Liberation Sans', 'Noto Serif CJK SC', 'Noto Sans CJK SC', sans-serif">，</tspan><tspan x="1799.92" y="372" font-size="31" font-family="'DejaVu Serif', 'Liberation Serif', serif" font-style="italic">σ</tspan><tspan x="1821.92" y="354" font-size="28.2">2</tspan><tspan x="1821.92" y="390.2" font-size="28.2">f</tspan><tspan x="1829.76" y="409.4" font-size="26.5">d</tspan><tspan x="1844.8" y="376.9" font-size="37.25" font-family="'Liberation Serif', 'DejaVu Serif', serif" stroke="#111" stroke-width="0.5">=</tspan><tspan x="1866.25" y="372">25,</tspan><tspan x="1917.33" y="372" font-size="31" font-family="'DejaVu Serif', 'Liberation Serif', serif" font-style="italic">σ</tspan><tspan x="1939.33" y="354" font-size="28.2">2</tspan><tspan x="1941.03" y="390.2" font-size="28.5" font-family="'Liberation Serif', 'DejaVu Serif', serif" textLength="18.5" lengthAdjust="spacingAndGlyphs">Φ</tspan><tspan x="1961.23" y="409" font-size="21.5" font-family="'DejaVu Serif', 'Liberation Serif', serif" font-style="italic">τ</tspan><tspan x="1973.13" y="376.9" font-size="37.25" font-family="'Liberation Serif', 'DejaVu Serif', serif" stroke="#111" stroke-width="0.5">=</tspan><tspan x="1994.59" y="372">10</tspan></text>
<path d="M998.0 460.9H1109.0" stroke="#ff0808" stroke-width="2.3" fill="none" stroke-dasharray="22.2 13.4"/>
<path d="M1043 460.9H1064M1053.5 450.4V471.4M1045.7 453.1L1061.3 468.7M1045.7 468.7L1061.3 453.1" stroke="#ff0808" stroke-width="1.9" fill="none"/>
<text fill="#111" font-family="'Liberation Sans', sans-serif" font-size="37.25"><tspan x="1117.4" y="464.7">Robust-decoupling algorithm</tspan><tspan x="1591.57" y="464.7" font-size="31" font-family="'Liberation Sans', 'Noto Serif CJK SC', 'Noto Sans CJK SC', sans-serif">，</tspan><tspan x="1628.12" y="464.7" font-size="31" font-family="'DejaVu Serif', 'Liberation Serif', serif" font-style="italic">σ</tspan><tspan x="1650.12" y="446.7" font-size="28.2">2</tspan><tspan x="1650.12" y="482.9" font-size="28.2">f</tspan><tspan x="1657.96" y="502.1" font-size="26.5">d</tspan><tspan x="1673" y="469.6" font-size="37.25" font-family="'Liberation Serif', 'DejaVu Serif', serif" stroke="#111" stroke-width="0.5">=</tspan><tspan x="1694.45" y="464.7">20,</tspan><tspan x="1745.53" y="464.7" font-size="31" font-family="'DejaVu Serif', 'Liberation Serif', serif" font-style="italic">σ</tspan><tspan x="1767.53" y="446.7" font-size="28.2">2</tspan><tspan x="1769.23" y="482.9" font-size="28.5" font-family="'Liberation Serif', 'DejaVu Serif', serif" textLength="18.5" lengthAdjust="spacingAndGlyphs">Φ</tspan><tspan x="1789.43" y="501.7" font-size="21.5" font-family="'DejaVu Serif', 'Liberation Serif', serif" font-style="italic">τ</tspan><tspan x="1801.33" y="469.6" font-size="37.25" font-family="'Liberation Serif', 'DejaVu Serif', serif" stroke="#111" stroke-width="0.5">=</tspan><tspan x="1822.79" y="464.7">5</tspan></text>
<path d="M998.0 553.6H1109.0" stroke="#ff0808" stroke-width="2.3" fill="none" stroke-dasharray="22.2 13.4"/>
<path d="M1043 553.6H1064M1053.5 543.1V564.1" stroke="#ff0808" stroke-width="1.9" fill="none"/>
<text fill="#111" font-family="'Liberation Sans', sans-serif" font-size="37.25"><tspan x="1117.4" y="557.4">Robust-joint algorithm</tspan><tspan x="1479.71" y="557.4" font-size="31" font-family="'Liberation Sans', 'Noto Serif CJK SC', 'Noto Sans CJK SC', sans-serif">，</tspan><tspan x="1515.46" y="557.4">U</tspan><tspan x="1543.37" y="575.6" font-size="28.2">l,p</tspan><tspan x="1575.45" y="557.4">/U</tspan><tspan x="1613.9" y="575.6" font-size="28.2">s</tspan><tspan x="1628.4" y="562.3" font-size="37.25" font-family="'Liberation Serif', 'DejaVu Serif', serif" stroke="#111" stroke-width="0.5">=</tspan><tspan x="1649.85" y="557.4">2,</tspan><tspan x="1681.32" y="557.4" font-size="31" font-family="'DejaVu Serif', 'Liberation Serif', serif" font-style="italic">σ</tspan><tspan x="1703.32" y="539.4" font-size="28.2">2</tspan><tspan x="1703.32" y="575.6" font-size="28.2">f</tspan><tspan x="1711.15" y="594.8" font-size="26.5">d</tspan><tspan x="1726.19" y="562.3" font-size="37.25" font-family="'Liberation Serif', 'DejaVu Serif', serif" stroke="#111" stroke-width="0.5">=</tspan><tspan x="1747.64" y="557.4">20,</tspan><tspan x="1798.73" y="557.4" font-size="31" font-family="'DejaVu Serif', 'Liberation Serif', serif" font-style="italic">σ</tspan><tspan x="1820.73" y="539.4" font-size="28.2">2</tspan><tspan x="1822.43" y="575.6" font-size="28.5" font-family="'Liberation Serif', 'DejaVu Serif', serif" textLength="18.5" lengthAdjust="spacingAndGlyphs">Φ</tspan><tspan x="1842.63" y="594.4" font-size="21.5" font-family="'DejaVu Serif', 'Liberation Serif', serif" font-style="italic">τ</tspan><tspan x="1854.53" y="562.3" font-size="37.25" font-family="'Liberation Serif', 'DejaVu Serif', serif" stroke="#111" stroke-width="0.5">=</tspan><tspan x="1875.98" y="557.4">5</tspan></text>
<path d="M998.0 646.3H1109.0" stroke="#ff0808" stroke-width="2.3" fill="none" stroke-dasharray="22.2 13.4"/>
<circle cx="1053.5" cy="646.3" r="11.0" stroke="#ff0808" stroke-width="1.9" fill="none"/>
<text fill="#111" font-family="'Liberation Sans', sans-serif" font-size="37.25"><tspan x="1117.4" y="650.1">Robust-joint algorithm</tspan><tspan x="1479.71" y="650.1" font-size="31" font-family="'Liberation Sans', 'Noto Serif CJK SC', 'Noto Sans CJK SC', sans-serif">，</tspan><tspan x="1515.46" y="650.1">U</tspan><tspan x="1543.37" y="668.3" font-size="28.2">l,p</tspan><tspan x="1575.45" y="650.1">/U</tspan><tspan x="1613.9" y="668.3" font-size="28.2">s</tspan><tspan x="1628.4" y="655" font-size="37.25" font-family="'Liberation Serif', 'DejaVu Serif', serif" stroke="#111" stroke-width="0.5">=</tspan><tspan x="1649.85" y="650.1">3,</tspan><tspan x="1681.32" y="650.1" font-size="31" font-family="'DejaVu Serif', 'Liberation Serif', serif" font-style="italic">σ</tspan><tspan x="1703.32" y="632.1" font-size="28.2">2</tspan><tspan x="1703.32" y="668.3" font-size="28.2">f</tspan><tspan x="1711.15" y="687.5" font-size="26.5">d</tspan><tspan x="1726.19" y="655" font-size="37.25" font-family="'Liberation Serif', 'DejaVu Serif', serif" stroke="#111" stroke-width="0.5">=</tspan><tspan x="1747.64" y="650.1">20,</tspan><tspan x="1798.73" y="650.1" font-size="31" font-family="'DejaVu Serif', 'Liberation Serif', serif" font-style="italic">σ</tspan><tspan x="1820.73" y="632.1" font-size="28.2">2</tspan><tspan x="1822.43" y="668.3" font-size="28.5" font-family="'Liberation Serif', 'DejaVu Serif', serif" textLength="18.5" lengthAdjust="spacingAndGlyphs">Φ</tspan><tspan x="1842.63" y="687.1" font-size="21.5" font-family="'DejaVu Serif', 'Liberation Serif', serif" font-style="italic">τ</tspan><tspan x="1854.53" y="655" font-size="37.25" font-family="'Liberation Serif', 'DejaVu Serif', serif" stroke="#111" stroke-width="0.5">=</tspan><tspan x="1875.98" y="650.1">5</tspan></text>
<path d="M998.0 739H1109.0" stroke="#ff0808" stroke-width="2.3" fill="none" stroke-dasharray="22.2 13.4"/>
<polygon points="1053.5,727.8 1056.01,735.54 1064.15,735.54 1057.57,740.32 1060.08,748.06 1053.5,743.28 1046.92,748.06 1049.43,740.32 1042.85,735.54 1050.99,735.54" stroke="#ff0808" stroke-width="1.9" fill="none" stroke-linejoin="miter"/>
<text fill="#111" font-family="'Liberation Sans', sans-serif" font-size="37.25"><tspan x="1117.4" y="742.8">Robust-joint algorithm</tspan><tspan x="1478.91" y="742.8">-non</tspan><tspan x="1552.17" y="742.8"> preselection</tspan><tspan x="1763.37" y="742.8" font-size="31" font-family="'Liberation Sans', 'Noto Serif CJK SC', 'Noto Sans CJK SC', sans-serif">，</tspan><tspan x="1799.92" y="742.8" font-size="31" font-family="'DejaVu Serif', 'Liberation Serif', serif" font-style="italic">σ</tspan><tspan x="1821.92" y="724.8" font-size="28.2">2</tspan><tspan x="1821.92" y="761" font-size="28.2">f</tspan><tspan x="1829.76" y="780.2" font-size="26.5">d</tspan><tspan x="1844.8" y="747.7" font-size="37.25" font-family="'Liberation Serif', 'DejaVu Serif', serif" stroke="#111" stroke-width="0.5">=</tspan><tspan x="1866.25" y="742.8">20,</tspan><tspan x="1917.33" y="742.8" font-size="31" font-family="'DejaVu Serif', 'Liberation Serif', serif" font-style="italic">σ</tspan><tspan x="1939.33" y="724.8" font-size="28.2">2</tspan><tspan x="1941.03" y="761" font-size="28.5" font-family="'Liberation Serif', 'DejaVu Serif', serif" textLength="18.5" lengthAdjust="spacingAndGlyphs">Φ</tspan><tspan x="1961.23" y="779.8" font-size="21.5" font-family="'DejaVu Serif', 'Liberation Serif', serif" font-style="italic">τ</tspan><tspan x="1973.13" y="747.7" font-size="37.25" font-family="'Liberation Serif', 'DejaVu Serif', serif" stroke="#111" stroke-width="0.5">=</tspan><tspan x="1994.59" y="742.8">5</tspan></text>
</g>
</svg>
</body>
</html>
